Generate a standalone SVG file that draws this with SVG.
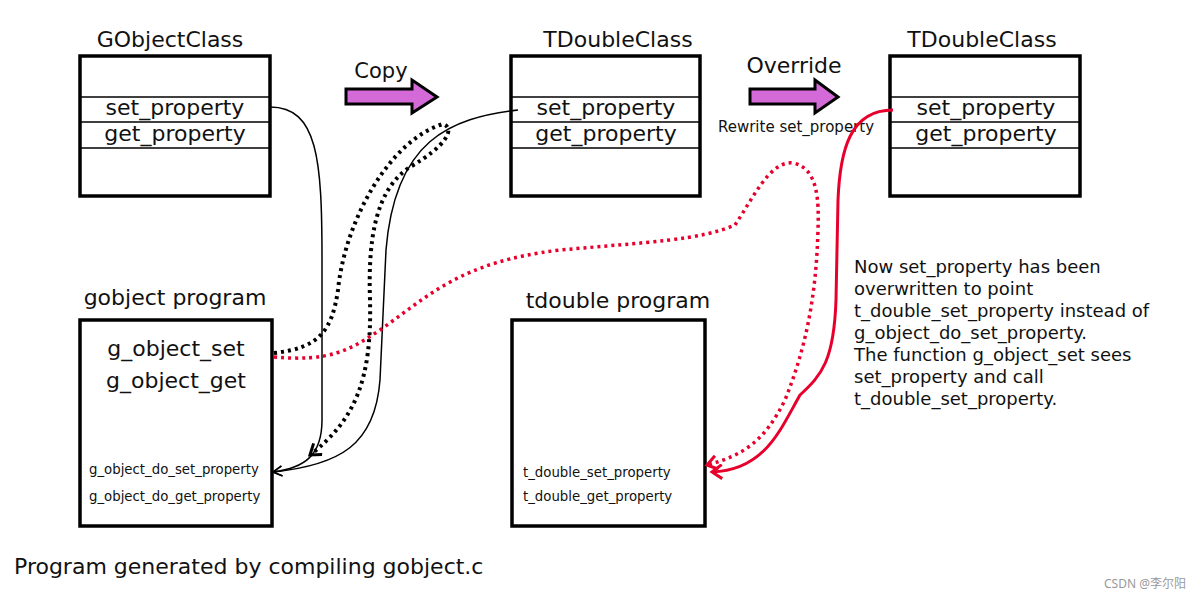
<svg xmlns="http://www.w3.org/2000/svg" width="1200" height="600" viewBox="0 0 1200 600">
<style>
text{font-family:"DejaVu Sans","Noto Sans",sans-serif;fill:#111}
.box{fill:#fff;stroke:#000;stroke-width:3.5}
.ln{stroke:#000;stroke-width:1.5}
.t{font-size:22px;text-anchor:middle}
.s{font-size:13.3px}
.pa{fill:#d46ad8;stroke:#000;stroke-width:3}
</style>
<defs>
<marker id="ak" markerWidth="12" markerHeight="12" refX="10" refY="6" orient="auto" markerUnits="userSpaceOnUse"><path d="M1,1 L10,6 L1,11" fill="none" stroke="#000" stroke-width="1.5"/></marker>
<marker id="akb" markerWidth="16" markerHeight="16" refX="12" refY="8" orient="auto" markerUnits="userSpaceOnUse"><path d="M2,1 L12,8 L2,15" fill="none" stroke="#000" stroke-width="3"/></marker>
<marker id="ar" markerWidth="16" markerHeight="16" refX="12" refY="8" orient="auto" markerUnits="userSpaceOnUse"><path d="M2,1 L12,8 L2,15" fill="none" stroke="#e8002d" stroke-width="3"/></marker>
</defs>
<rect width="1200" height="600" fill="#fff"/>
<g id="gobjectclass">
<text class="t" x="170" y="47" font-size="23.5">GObjectClass</text>
<rect class="box" x="80" y="56" width="190" height="140"/>
<line class="ln" x1="80" y1="97" x2="270" y2="97"/><line class="ln" x1="80" y1="122" x2="270" y2="122"/><line class="ln" x1="80" y1="148" x2="270" y2="148"/>
<text class="t" x="175" y="115">set_property</text><text class="t" x="175" y="141">get_property</text>
</g>
<g id="tdoubleclass1">
<text class="t" x="618" y="47" font-size="23.5">TDoubleClass</text>
<rect class="box" x="511" y="56" width="189" height="140"/>
<line class="ln" x1="511" y1="97" x2="700" y2="97"/><line class="ln" x1="511" y1="122" x2="700" y2="122"/><line class="ln" x1="511" y1="148" x2="700" y2="148"/>
<text class="t" x="606" y="115">set_property</text><text class="t" x="606" y="141">get_property</text>
</g>
<g id="tdoubleclass2">
<text class="t" x="982" y="47" font-size="23.5">TDoubleClass</text>
<rect class="box" x="890" y="56" width="190" height="140"/>
<line class="ln" x1="890" y1="97" x2="1080" y2="97"/><line class="ln" x1="890" y1="122" x2="1080" y2="122"/><line class="ln" x1="890" y1="148" x2="1080" y2="148"/>
<text class="t" x="986" y="115">set_property</text><text class="t" x="986" y="141">get_property</text>
</g>
<g id="gobjectprogram">
<text class="t" x="175" y="305">gobject program</text>
<rect class="box" x="80" y="320" width="192" height="206"/>
<text class="t" x="176" y="356">g_object_set</text><text class="t" x="176" y="388">g_object_get</text>
<text class="s" x="89" y="474">g_object_do_set_property</text><text class="s" x="89" y="501">g_object_do_get_property</text>
</g>
<g id="tdoubleprogram">
<text class="t" x="618" y="308">tdouble program</text>
<rect class="box" x="512" y="320" width="193" height="206"/>
<text class="s" x="523" y="477" font-size="15">t_double_set_property</text><text class="s" x="523" y="501" font-size="15">t_double_get_property</text>
</g>
<g id="copy">
<text x="381" y="78" font-size="21" text-anchor="middle">Copy</text>
<path class="pa" d="M346,89 H412 V80 L437,97 L412,113 V104 H346 Z"/>
</g>
<g id="override">
<text x="794" y="73" font-size="22" text-anchor="middle">Override</text>
<path class="pa" d="M750,89 H815 V80 L838,97 L815,113 V104 H750 Z"/>
<text x="796" y="132" font-size="15" text-anchor="middle">Rewrite set_property</text>
</g>
<g id="note" font-size="18">
<text x="854" y="273">Now set_property has been</text>
<text x="854" y="295">overwritten to point</text>
<text x="854" y="317">t_double_set_property instead of</text>
<text x="854" y="339">g_object_do_set_property.</text>
<text x="854" y="361">The function g_object_set sees</text>
<text x="854" y="383">set_property and call</text>
<text x="854" y="405">t_double_set_property.</text>
</g>
<text x="14" y="574" font-size="22">Program generated by compiling gobject.c</text>
<text x="1186" y="588" font-size="12" text-anchor="end" style="fill:#999;font-family:'Noto Sans','Noto Sans CJK SC',sans-serif">CSDN @李尔阳</text>
<g id="connectors" fill="none">
<path d="M270,107 C318,107 322,160 322,260 L322,420 C322,455 305,468 273,472" stroke="#000" stroke-width="1.5" marker-end="url(#ak)"/>
<path d="M518,110 C450,118 395,140 386,250 L380,380 C375,445 340,465 273,472" stroke="#000" stroke-width="1.5" marker-end="url(#ak)"/>
<path d="M274,353 C320,348 332,330 338,290 C345,220 390,140 443,124 C455,128 448,145 410,167 C375,190 368,240 370,300 C372,380 355,420 310,455" stroke="#000" stroke-width="4" stroke-dasharray="3,4" marker-end="url(#akb)"/>
<path d="M274,357 C330,362 350,350 380,330 C430,295 460,262 560,250 C650,242 700,240 735,225 C752,200 770,160 793,163 C818,168 819,200 818,230 C816,300 805,350 785,400 C765,440 745,455 707,465" stroke="#e8002d" stroke-width="3.5" stroke-dasharray="3,4" marker-end="url(#ar)"/>
<path d="M893,110 C850,110 840,150 838,200 L836,300 C834,360 822,375 800,395 C780,430 765,470 712,472" stroke="#e8002d" stroke-width="3" marker-end="url(#ar)"/>
</g>
</svg>
